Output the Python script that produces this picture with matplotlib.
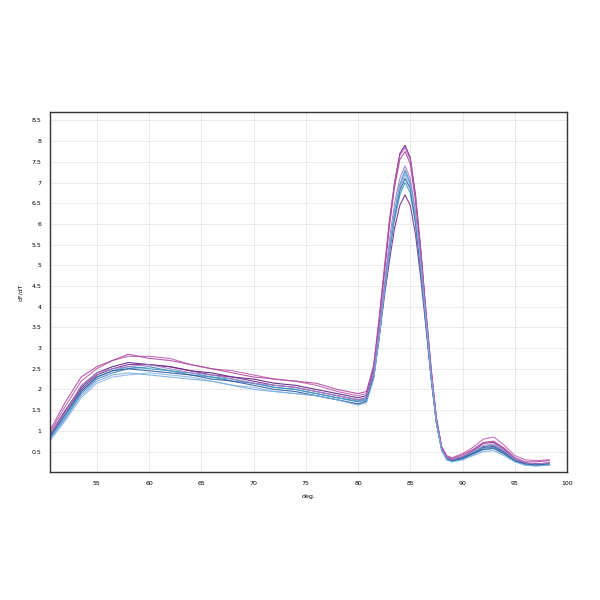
import numpy as np
import matplotlib.pyplot as plt

temps = [50.5, 52, 53.5, 55, 56.5, 58, 60, 62, 64, 66, 68, 70, 72, 74, 76, 78, 80, 80.8,
         81.5, 82, 82.5, 83, 83.5, 84, 84.5, 85, 85.5, 86, 86.5, 87, 87.5, 88, 88.5, 89,
         90, 91, 92, 93, 94, 95, 96, 97, 98.3]

curves = [
    [0.9,1.5,2.05,2.4,2.55,2.65,2.6,2.55,2.45,2.4,2.3,2.25,2.15,2.1,2.0,1.9,1.8,1.85,2.5,3.6,4.8,6.0,7.0,7.7,7.9,7.6,6.7,5.4,3.9,2.5,1.3,0.6,0.35,0.3,0.35,0.45,0.6,0.62,0.48,0.3,0.22,0.2,0.22],
    [0.95,1.6,2.2,2.5,2.7,2.8,2.8,2.75,2.6,2.5,2.45,2.35,2.25,2.2,2.1,1.95,1.85,1.9,2.6,3.7,4.9,6.1,7.0,7.65,7.85,7.55,6.65,5.35,3.85,2.45,1.3,0.62,0.4,0.35,0.45,0.6,0.8,0.85,0.65,0.4,0.3,0.28,0.3],
    [0.8,1.3,1.9,2.25,2.4,2.5,2.55,2.45,2.35,2.3,2.2,2.15,2.05,2.0,1.9,1.8,1.7,1.75,2.35,3.3,4.4,5.4,6.3,6.95,7.3,7.0,6.2,5.0,3.7,2.3,1.2,0.55,0.32,0.28,0.35,0.48,0.62,0.65,0.5,0.3,0.2,0.18,0.2],
    [0.75,1.25,1.8,2.15,2.3,2.35,2.4,2.35,2.3,2.2,2.1,2.05,1.95,1.9,1.85,1.75,1.65,1.7,2.3,3.2,4.3,5.3,6.2,6.85,7.2,6.9,6.1,4.95,3.6,2.3,1.2,0.55,0.3,0.25,0.3,0.42,0.55,0.58,0.45,0.28,0.18,0.15,0.18],
    [0.85,1.45,2.0,2.35,2.5,2.6,2.6,2.55,2.45,2.35,2.3,2.2,2.1,2.05,1.95,1.85,1.75,1.8,2.3,3.2,4.2,5.1,5.9,6.45,6.7,6.45,5.75,4.7,3.5,2.25,1.2,0.58,0.35,0.3,0.38,0.52,0.7,0.72,0.55,0.32,0.22,0.2,0.22],
    [0.8,1.35,1.95,2.3,2.45,2.55,2.5,2.45,2.4,2.3,2.25,2.15,2.05,2.0,1.9,1.8,1.72,1.78,2.35,3.3,4.3,5.3,6.1,6.7,7.0,6.75,6.0,4.85,3.6,2.3,1.2,0.55,0.3,0.27,0.33,0.45,0.58,0.6,0.45,0.27,0.18,0.16,0.18],
    [1.0,1.7,2.3,2.55,2.7,2.85,2.75,2.7,2.6,2.5,2.4,2.3,2.25,2.2,2.15,2.0,1.9,1.95,2.55,3.6,4.8,5.95,6.9,7.55,7.75,7.45,6.55,5.3,3.8,2.45,1.3,0.62,0.38,0.33,0.42,0.55,0.72,0.75,0.58,0.35,0.25,0.25,0.28],
    [0.85,1.4,1.95,2.3,2.45,2.5,2.45,2.4,2.35,2.25,2.2,2.1,2.0,1.95,1.85,1.75,1.65,1.72,2.3,3.25,4.35,5.35,6.2,6.8,7.1,6.85,6.05,4.9,3.6,2.3,1.2,0.55,0.32,0.28,0.33,0.45,0.55,0.57,0.44,0.27,0.2,0.18,0.2],
    [0.9,1.45,2.1,2.4,2.5,2.55,2.6,2.5,2.4,2.35,2.25,2.15,2.1,2.05,1.95,1.85,1.75,1.8,2.4,3.4,4.5,5.6,6.5,7.1,7.4,7.1,6.3,5.1,3.75,2.4,1.25,0.58,0.35,0.3,0.38,0.5,0.65,0.68,0.52,0.32,0.22,0.2,0.22],
    [0.8,1.3,1.85,2.2,2.35,2.4,2.35,2.3,2.25,2.2,2.1,2.0,1.95,1.9,1.85,1.75,1.62,1.68,2.25,3.2,4.3,5.35,6.25,6.9,7.25,6.95,6.15,5.0,3.65,2.3,1.2,0.52,0.3,0.25,0.3,0.4,0.5,0.52,0.4,0.25,0.17,0.15,0.17],
]

colors = ['#5a2080', '#c060b0', '#4a7fc0', '#8fb8e8', '#7a2a8a',
          '#3a9ac0', '#b04aa0', '#2f5fa0', '#a080c8', '#7ab0e0']

fig = plt.figure(figsize=(6, 6), dpi=100)
ax = fig.add_axes([0.083, 0.213, 0.862, 0.6])

for vals, c in zip(curves, colors):
    ax.plot(temps, vals, color=c, linewidth=0.8, alpha=0.9)

ax.set_xlim(50.5, 100)
ax.set_ylim(0, 8.7)
ax.set_xticks(np.arange(55, 101, 5))
ax.set_yticks(np.arange(0.5, 8.6, 0.5))
ax.set_yticklabels([f"{v:g}" for v in np.arange(0.5, 8.6, 0.5)])
ax.tick_params(labelsize=4.5, length=0, pad=6)
ax.grid(True, color='#e6e6e6', linewidth=0.6)
for s in ax.spines.values():
    s.set_color('#333333')
    s.set_linewidth(1.0)
ax.set_xlabel('deg.', fontsize=4.5, labelpad=6)
ax.set_ylabel('dF/dT', fontsize=4.5, labelpad=6)

fig.savefig('out.png', dpi=100)
